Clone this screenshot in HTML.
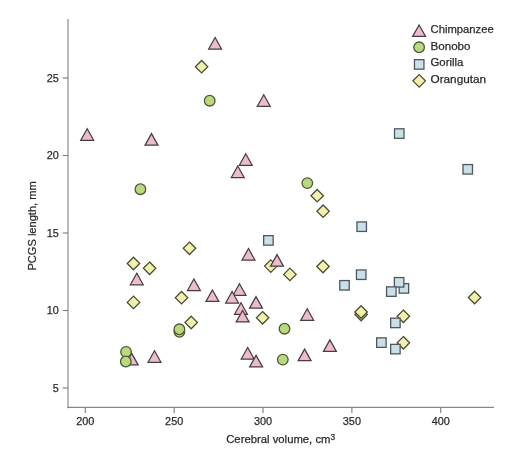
<!DOCTYPE html>
<html><head><meta charset="utf-8"><title>PCGS length vs cerebral volume</title><style>
html,body{margin:0;padding:0;background:#fff;}
svg{display:block;}
text{font-family:"Liberation Sans",Arial,sans-serif;fill:#2b2b2b;stroke:#2b2b2b;stroke-width:0.25px;}
.yl{font-size:11.5px;text-anchor:end;}
.xl{font-size:11.5px;text-anchor:middle;}
.xt{font-size:11.2px;}
.sup{font-size:8.3px;}
.yt{font-size:11.3px;}
.lg{font-size:11.3px;}
.ax{stroke:#a3a3a3;stroke-width:1.5;}
.axx{stroke:#878787;stroke-width:1.25;}
.tk{stroke:#7a7a7a;stroke-width:1.1;}
.t{fill:#ebbccc;stroke:#4b3a43;stroke-width:1.25;stroke-linejoin:miter;}
.c{fill:#bcd87e;stroke:#4a5a33;stroke-width:1.3;}
.s{fill:#c8e0e6;stroke:#4e575f;stroke-width:1.3;}
.d{fill:#f0f1ad;stroke:#4a4a32;stroke-width:1.25;}
</style></head>
<body><svg width="520" height="467" viewBox="0 0 520 467">
<rect width="520" height="467" fill="#fff"/>
<line class="ax" x1="68.0" y1="19" x2="68.0" y2="408.15"/>
<line class="axx" x1="67.25" y1="407.4" x2="494" y2="407.4"/>
<line class="tk" x1="62.7" y1="388.00" x2="68.0" y2="388.00"/>
<text class="yl" x="58.9" y="391.55" textLength="6.05" lengthAdjust="spacingAndGlyphs">5</text>
<line class="tk" x1="62.7" y1="310.50" x2="68.0" y2="310.50"/>
<text class="yl" x="58.9" y="314.05" textLength="12.10" lengthAdjust="spacingAndGlyphs">10</text>
<line class="tk" x1="62.7" y1="233.00" x2="68.0" y2="233.00"/>
<text class="yl" x="58.9" y="236.55" textLength="12.10" lengthAdjust="spacingAndGlyphs">15</text>
<line class="tk" x1="62.7" y1="155.50" x2="68.0" y2="155.50"/>
<text class="yl" x="58.9" y="159.05" textLength="12.10" lengthAdjust="spacingAndGlyphs">20</text>
<line class="tk" x1="62.7" y1="78.00" x2="68.0" y2="78.00"/>
<text class="yl" x="58.9" y="81.55" textLength="12.10" lengthAdjust="spacingAndGlyphs">25</text>
<line class="tk" x1="85.30" y1="407.4" x2="85.30" y2="412.9"/>
<text class="xl" x="85.30" y="425.0" textLength="18.15" lengthAdjust="spacingAndGlyphs">200</text>
<line class="tk" x1="174.16" y1="407.4" x2="174.16" y2="412.9"/>
<text class="xl" x="174.16" y="425.0" textLength="18.15" lengthAdjust="spacingAndGlyphs">250</text>
<line class="tk" x1="263.02" y1="407.4" x2="263.02" y2="412.9"/>
<text class="xl" x="263.02" y="425.0" textLength="18.15" lengthAdjust="spacingAndGlyphs">300</text>
<line class="tk" x1="351.89" y1="407.4" x2="351.89" y2="412.9"/>
<text class="xl" x="351.89" y="425.0" textLength="18.15" lengthAdjust="spacingAndGlyphs">350</text>
<line class="tk" x1="440.75" y1="407.4" x2="440.75" y2="412.9"/>
<text class="xl" x="440.75" y="425.0" textLength="18.15" lengthAdjust="spacingAndGlyphs">400</text>
<text class="xt" x="226.2" y="443.0" textLength="104.3" lengthAdjust="spacingAndGlyphs">Cerebral volume, cm</text><text class="sup" x="330.6" y="439.6">3</text>
<text class="yt" transform="translate(36.3 225.6) rotate(-90)" textLength="89.3" lengthAdjust="spacingAndGlyphs" x="-45.0">PCGS length, mm</text>
<path class="d" d="M201.60 60.45L207.85 66.70L201.60 72.95L195.35 66.70Z"/>
<path class="d" d="M317.20 189.45L323.45 195.70L317.20 201.95L310.95 195.70Z"/>
<path class="d" d="M323.10 204.95L329.35 211.20L323.10 217.45L316.85 211.20Z"/>
<path class="d" d="M189.50 242.05L195.75 248.30L189.50 254.55L183.25 248.30Z"/>
<path class="d" d="M133.50 257.25L139.75 263.50L133.50 269.75L127.25 263.50Z"/>
<path class="d" d="M149.60 262.05L155.85 268.30L149.60 274.55L143.35 268.30Z"/>
<path class="d" d="M270.80 259.85L277.05 266.10L270.80 272.35L264.55 266.10Z"/>
<path class="d" d="M323.00 260.25L329.25 266.50L323.00 272.75L316.75 266.50Z"/>
<path class="d" d="M289.90 268.15L296.15 274.40L289.90 280.65L283.65 274.40Z"/>
<path class="d" d="M181.55 291.45L187.80 297.70L181.55 303.95L175.30 297.70Z"/>
<path class="d" d="M133.50 296.15L139.75 302.40L133.50 308.65L127.25 302.40Z"/>
<path class="d" d="M474.60 291.25L480.85 297.50L474.60 303.75L468.35 297.50Z"/>
<path class="d" d="M361.10 308.25L367.35 314.50L361.10 320.75L354.85 314.50Z"/>
<path class="d" d="M361.10 305.75L367.35 312.00L361.10 318.25L354.85 312.00Z"/>
<path class="d" d="M403.40 310.05L409.65 316.30L403.40 322.55L397.15 316.30Z"/>
<path class="d" d="M262.60 311.55L268.85 317.80L262.60 324.05L256.35 317.80Z"/>
<path class="d" d="M191.20 316.25L197.45 322.50L191.20 328.75L184.95 322.50Z"/>
<path class="d" d="M403.40 336.55L409.65 342.80L403.40 349.05L397.15 342.80Z"/>
<path class="t" d="M215.10 37.55L221.55 49.05L208.65 49.05Z"/>
<path class="t" d="M263.75 94.80L270.20 106.30L257.30 106.30Z"/>
<path class="t" d="M87.20 128.80L93.65 140.30L80.75 140.30Z"/>
<path class="t" d="M151.50 133.65L157.95 145.15L145.05 145.15Z"/>
<path class="t" d="M245.75 153.80L252.20 165.30L239.30 165.30Z"/>
<path class="t" d="M237.75 166.05L244.20 177.55L231.30 177.55Z"/>
<path class="t" d="M248.50 248.55L254.95 260.05L242.05 260.05Z"/>
<path class="t" d="M277.00 254.65L283.45 266.15L270.55 266.15Z"/>
<path class="t" d="M136.80 273.25L143.25 284.75L130.35 284.75Z"/>
<path class="t" d="M193.90 279.00L200.35 290.50L187.45 290.50Z"/>
<path class="t" d="M239.50 283.75L245.95 295.25L233.05 295.25Z"/>
<path class="t" d="M212.40 289.95L218.85 301.45L205.95 301.45Z"/>
<path class="t" d="M232.10 291.55L238.55 303.05L225.65 303.05Z"/>
<path class="t" d="M256.00 296.65L262.45 308.15L249.55 308.15Z"/>
<path class="t" d="M241.00 302.75L247.45 314.25L234.55 314.25Z"/>
<path class="t" d="M307.20 308.75L313.65 320.25L300.75 320.25Z"/>
<path class="t" d="M242.60 310.45L249.05 321.95L236.15 321.95Z"/>
<path class="t" d="M329.90 339.85L336.35 351.35L323.45 351.35Z"/>
<path class="t" d="M247.70 347.55L254.15 359.05L241.25 359.05Z"/>
<path class="t" d="M304.60 349.15L311.05 360.65L298.15 360.65Z"/>
<path class="t" d="M154.50 350.75L160.95 362.25L148.05 362.25Z"/>
<path class="t" d="M131.70 353.35L138.15 364.85L125.25 364.85Z"/>
<path class="t" d="M256.10 355.35L262.55 366.85L249.65 366.85Z"/>
<circle class="c" cx="209.70" cy="100.70" r="5.3"/>
<circle class="c" cx="140.40" cy="189.20" r="5.3"/>
<circle class="c" cx="307.30" cy="183.10" r="5.3"/>
<circle class="c" cx="179.40" cy="331.80" r="5.3"/>
<circle class="c" cx="179.40" cy="329.30" r="5.3"/>
<circle class="c" cx="284.50" cy="328.70" r="5.3"/>
<circle class="c" cx="126.05" cy="351.90" r="5.3"/>
<circle class="c" cx="125.80" cy="361.50" r="5.3"/>
<circle class="c" cx="282.80" cy="359.60" r="5.3"/>
<rect class="s" x="394.50" y="128.80" width="9.5" height="9.5"/>
<rect class="s" x="463.00" y="164.55" width="9.5" height="9.5"/>
<rect class="s" x="356.95" y="221.95" width="9.5" height="9.5"/>
<rect class="s" x="263.65" y="235.65" width="9.5" height="9.5"/>
<rect class="s" x="356.45" y="269.95" width="9.5" height="9.5"/>
<rect class="s" x="339.75" y="280.55" width="9.5" height="9.5"/>
<rect class="s" x="399.15" y="283.65" width="9.5" height="9.5"/>
<rect class="s" x="394.35" y="277.55" width="9.5" height="9.5"/>
<rect class="s" x="386.55" y="286.85" width="9.5" height="9.5"/>
<rect class="s" x="390.65" y="318.15" width="9.5" height="9.5"/>
<rect class="s" x="376.65" y="337.85" width="9.5" height="9.5"/>
<rect class="s" x="390.65" y="344.35" width="9.5" height="9.5"/>
<path class="t" d="M419.10 24.95L425.55 36.45L412.65 36.45Z"/>
<circle class="c" cx="419.10" cy="47.30" r="5.3"/>
<rect class="s" x="414.45" y="59.65" width="9.5" height="9.5"/>
<path class="d" d="M419.20 74.60L425.45 80.85L419.20 87.10L412.95 80.85Z"/>
<text class="lg" x="430.5" y="33.0" textLength="63.2" lengthAdjust="spacingAndGlyphs">Chimpanzee</text>
<text class="lg" x="430.5" y="49.5" textLength="40" lengthAdjust="spacingAndGlyphs">Bonobo</text>
<text class="lg" x="430.5" y="66.1" textLength="32.8" lengthAdjust="spacingAndGlyphs">Gorilla</text>
<text class="lg" x="430.5" y="82.9" textLength="55.6" lengthAdjust="spacingAndGlyphs">Orangutan</text>
</svg></body></html>
